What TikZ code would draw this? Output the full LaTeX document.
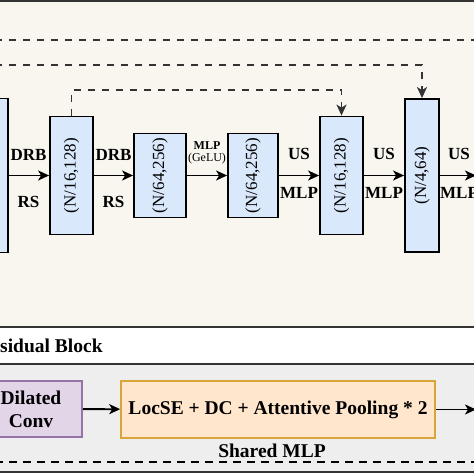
\documentclass[tikz,border=0pt]{standalone}
\usepackage{fontspec}
\setmainfont{Liberation Serif}
\usetikzlibrary{arrows.meta}
\definecolor{beige}{HTML}{F8F6EE}
\definecolor{panelgray}{HTML}{EEEEEE}
\definecolor{boxblue}{HTML}{DAE8FC}
\definecolor{lavfill}{HTML}{E1D5E7}
\definecolor{lavline}{HTML}{9673A6}
\definecolor{orfill}{HTML}{FFE6CC}
\definecolor{orline}{HTML}{D9A53A}
\definecolor{darkline}{HTML}{333333}
\tikzset{
  bbox/.style={draw=black, line width=1.8pt, fill=boxblue, rotate=90, inner sep=0pt,
    font=\fontsize{17}{20}\selectfont},
  flow/.style={draw=black, line width=1.8pt, -{Stealth[length=11pt,width=10pt,inset=3pt]}},
  skip/.style={draw=darkline, line width=1.8pt, dash pattern=on 7pt off 7pt},
  skiparrow/.style={skip, -{Stealth[length=11pt,width=10pt,inset=3pt]}},
  lbl/.style={font=\bfseries\fontsize{17}{20}\selectfont, inner sep=0pt},
  small/.style={font=\fontsize{12}{13}\selectfont, inner sep=0pt, align=center},
  frameline/.style={draw=darkline, line width=1.5pt},
  bigtxt/.style={font=\bfseries\fontsize{19.5}{23}\selectfont, inner sep=0pt, align=center}
}
\begin{document}
\begin{tikzpicture}[x=1pt,y=1pt]
\useasboundingbox (0,0) rectangle (474,474);
\clip (0,0) rectangle (474,474);
% panels
\fill[white] (-10,-10) rectangle (484,484);
\fill[beige] (-10,147) rectangle (484,472);
\fill[white] (-10,110) rectangle (484,147);
\fill[panelgray] (-10,2) rectangle (484,110);
\draw[frameline, line width=2.6pt] (-10,473) -- (484,473);
\draw[frameline] (-10,147) -- (484,147);
\draw[frameline] (-10,110) -- (484,110);
\draw[frameline, line width=2pt] (-10,2) -- (484,2);

% encoder/decoder boxes
\node[bbox, minimum width=154pt, minimum height=56pt] (b1) at (-20,298.5) {};
\node[bbox, minimum width=118pt, minimum height=43pt] (b2) at (71.5,298.5) {(N/16,128)};
\node[bbox, minimum width=84pt, minimum height=52pt] (b3) at (160,298.5) {(N/64,256)};
\node[bbox, minimum width=84pt, minimum height=50pt] (b4) at (253,298.5) {(N/64,256)};
\node[bbox, minimum width=118pt, minimum height=43pt] (b5) at (341.5,298.5) {(N/16,128)};
\node[bbox, minimum width=153pt, minimum height=34pt] (b6) at (422,298.5) {(N/4,64)};
\coordinate (outr) at (476,298.5);

\draw[flow] (b1) -- (b2);
\draw[flow] (b2) -- (b3);
\draw[flow] (b3) -- (b4);
\draw[flow] (b4) -- (b5);
\draw[flow] (b5) -- (b6);
\draw[flow] (b6) -- (outr);

% labels
\node[lbl] (l1) at (28.5,319) {DRB};
\node[lbl] (l2) at (28.5,272) {RS};
\node[lbl] (l3) at (113.5,319) {DRB};
\node[lbl] (l4) at (113.5,272) {RS};
\node[small] (l5) at (207,321) {\textbf{MLP}\\[-1pt](GeLU)};
\node[lbl] (l6) at (299,320) {US};
\node[lbl] (l7) at (299,281) {MLP};
\node[lbl] (l8) at (384,320) {US};
\node[lbl] (l9) at (384,281) {MLP};
\node[lbl] (l10) at (459,320) {US};
\node[lbl] (l11) at (459,281) {MLP};

% skip connections
\coordinate (s1l) at (-5,434);
\coordinate (s1r) at (479,434);
\draw[skip] (s1l) -- (s1r);
\coordinate (s2l) at (-5,409);
\draw[skiparrow] (s2l) -| (b6.east);
\draw[skiparrow] (b2.east) |- (341.5,384) -- (b5.east);

% residual block
\node[bigtxt, anchor=west] (rb) at (0,128) {sidual Block};
\node[draw=lavline, line width=1.6pt, fill=lavfill, minimum width=102pt, minimum height=56pt,
  bigtxt] (dc) at (31,65) {Dilated\\Conv};
\node[draw=orline, line width=1.6pt, fill=orfill, minimum width=314pt, minimum height=57pt,
  bigtxt] (lc) at (278,64.5) {LocSE + DC + Attentive Pooling * 2};
\coordinate (outb) at (476,64.5);
\draw[flow] (dc) -- (lc);
\draw[flow] (lc) -- (outb);
\node[bigtxt] (sm) at (272,23.5) {Shared MLP};
\coordinate (d3l) at (-5,12);
\coordinate (d3r) at (479,12);
\draw[draw=black, line width=1.8pt, dash pattern=on 8pt off 6pt] (d3l) -- (d3r);
\end{tikzpicture}
\end{document}
